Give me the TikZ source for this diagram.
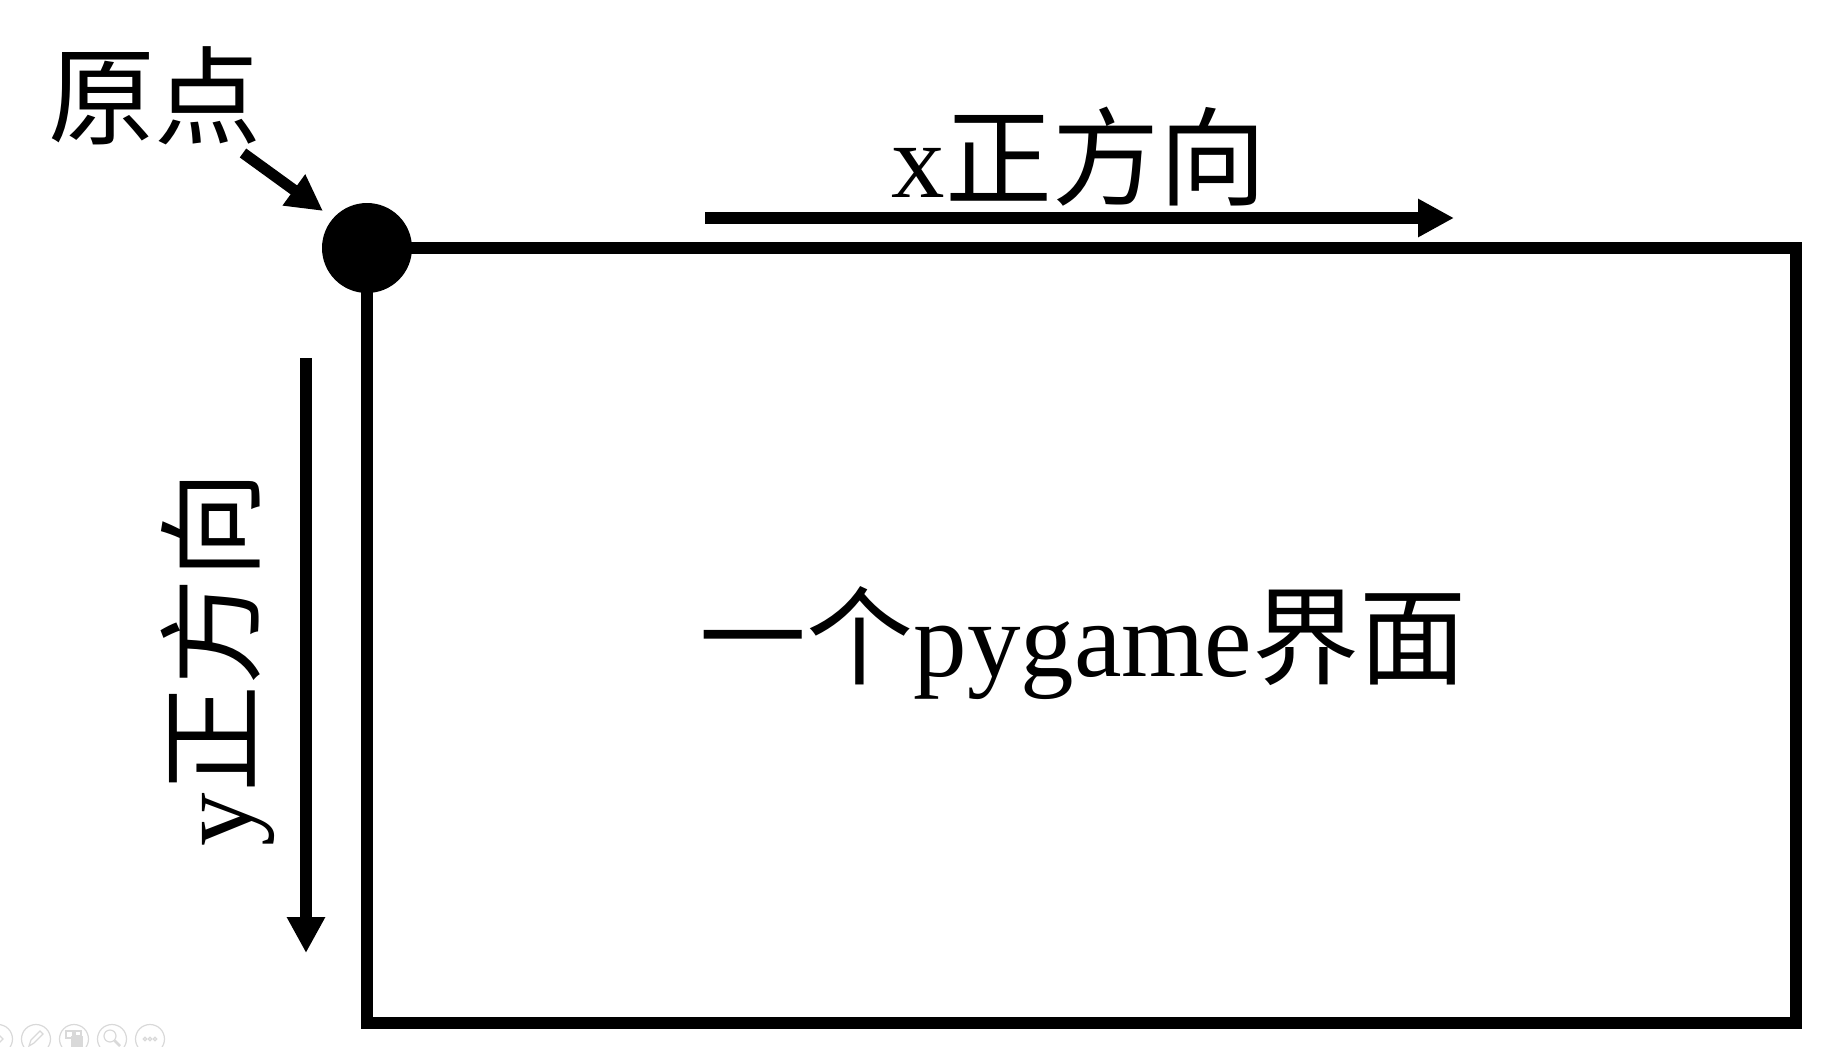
\documentclass[tikz,border=0pt]{standalone}
\usepackage{fontspec}
\setmainfont{Liberation Serif}
\newfontfamily\cjk{Noto Sans CJK SC}
\usetikzlibrary{arrows.meta}
\definecolor{icongray}{HTML}{D9D9D9}
\tikzset{
    thickline/.style={line width=12pt, draw=black},
    dirarrow/.style={line width=12pt, draw=black, -{Triangle[length=36pt,width=36pt]}},
    bigtext/.style={inner sep=0pt, font=\fontsize{107}{107}\selectfont},
    toolicon/.style={draw=icongray, line width=1.2pt},
}
\begin{document}
\begin{tikzpicture}[x=1pt,y=-1pt]
    \useasboundingbox (0,0) rectangle (1840,1047);

    % window
    \draw [thickline] (367,248) rectangle (1796,1023);

    % origin
    \node (origin) at (367,248) [circle, fill=black, minimum size=90pt, inner sep=0pt] {};
    \node (originlabel) at (155,96) [bigtext] {\cjk 原点};
    \coordinate (originstart) at (243,153);
    \coordinate (originend) at (323,211);
    \draw [dirarrow, line width=11pt] (originstart) -- (originend);

    % x direction
    \coordinate (xstart) at (705,218);
    \coordinate (xend) at (1454,218);
    \draw [dirarrow] (xstart) -- (xend);
    \node (xlabel) at (1079,157) [bigtext] {x\cjk 正方向};

    % y direction
    \coordinate (ystart) at (306,358);
    \coordinate (yend) at (306,953);
    \draw [dirarrow] (ystart) -- (yend);
    \node (ylabel) at (218,659) [bigtext, rotate=90] {y\cjk 正方向};

    % centre label
    \node (title) at (1083,643) [bigtext] {\cjk 一个\rmfamily pygame\cjk 界面};

    % toolbar icons
    \begin{scope}
        \clip (0,1000) rectangle (200,1047);
        \foreach \iconx in {-2,36,74,112,150}
            \draw [toolicon] (\iconx,1039) circle (14.5);
        \draw [toolicon] (-1,1035) -- (3,1039) -- (-1,1043);
        \draw [toolicon] (29,1046) -- (31,1040) -- (40,1031) -- (43,1034) -- (34,1043) -- cycle;
        \draw [toolicon] (66,1031) rectangle (73,1038);
        \draw [toolicon] (75,1031) rectangle (81,1036);
        \draw [toolicon, fill=icongray] (72,1037) rectangle (82,1047);
        \draw [toolicon] (110,1036) circle (6);
        \draw [toolicon, line width=2.5pt] (114.5,1040.5) -- (120,1046);
        \draw [toolicon] (145,1039) circle (1.8);
        \draw [toolicon] (150,1039) circle (1.8);
        \draw [toolicon] (155,1039) circle (1.8);
    \end{scope}

\end{tikzpicture}
\end{document}
